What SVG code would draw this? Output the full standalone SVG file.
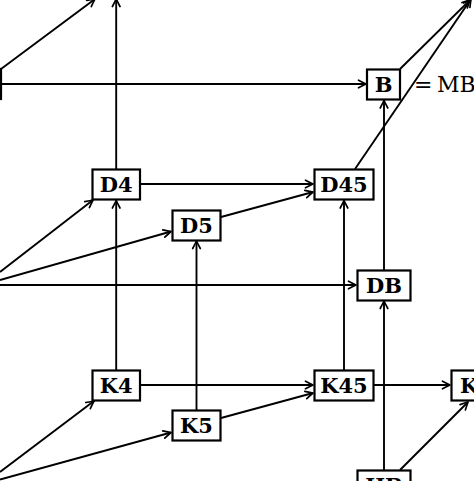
<svg xmlns="http://www.w3.org/2000/svg" width="474" height="481" viewBox="0 0 474 481">
<defs>
<marker id="ah" markerUnits="userSpaceOnUse" markerWidth="14" markerHeight="12" viewBox="-9 -6 11 12" refX="0" refY="0" orient="auto" overflow="visible">
<path d="M -7.5 -3.8 Q -2.5 -1.2 0 0 Q -2.5 1.2 -7.5 3.8" fill="none" stroke="#000" stroke-width="1.7" stroke-linecap="round" stroke-linejoin="round"/>
</marker>
<style>
.n rect{fill:#fff;stroke:#000;stroke-width:2.2}
.n text{font-family:"DejaVu Serif","Liberation Serif",serif;font-weight:bold;font-size:21px;text-anchor:middle;fill:#000}
#edges line{stroke:#000;stroke-width:1.9;marker-end:url(#ah)}
.lbl{font-family:"DejaVu Serif","Liberation Serif",serif;font-size:22px;fill:#000}
</style>
</defs>
<rect x="0" y="0" width="474" height="481" fill="#fff"/>
<g id="edges">
<line x1="1" y1="69" x2="95" y2="-1"/>
<line x1="1" y1="84" x2="366" y2="84"/>
<line x1="116.2" y1="169" x2="116.2" y2="-1"/>
<line x1="140" y1="184" x2="313" y2="184"/>
<line x1="221" y1="217" x2="313" y2="192"/>
<line x1="0" y1="272" x2="93" y2="200"/>
<line x1="0" y1="280" x2="171" y2="231.5"/>
<line x1="0" y1="285" x2="356" y2="285"/>
<line x1="116.2" y1="370" x2="116.2" y2="200.5"/>
<line x1="196.5" y1="410" x2="196.5" y2="241"/>
<line x1="344" y1="370" x2="344" y2="200.5"/>
<line x1="384" y1="470" x2="384" y2="301"/>
<line x1="384" y1="270" x2="384" y2="100.5"/>
<line x1="355" y1="169" x2="471" y2="-1"/>
<line x1="400" y1="69" x2="470" y2="0"/>
<line x1="140" y1="385" x2="313" y2="385"/>
<line x1="221" y1="418" x2="313" y2="393"/>
<line x1="0" y1="472" x2="94" y2="401"/>
<line x1="0" y1="479.5" x2="171" y2="432.5"/>
<line x1="374" y1="385" x2="450" y2="385"/>
<line x1="400" y1="470" x2="468" y2="402"/>
</g>
<g id="nL" class="n"><rect x="-60" y="69" width="61" height="30"/></g>
<g id="nB" class="n"><rect x="367" y="69.5" width="33" height="30"/><text x="383.5" y="92">B</text></g>
<g id="nD4" class="n"><rect x="92.5" y="169.5" width="47.5" height="30"/><text x="116.2" y="192">D4</text></g>
<g id="nD5" class="n"><rect x="172.5" y="210.5" width="48" height="30"/><text x="196.5" y="233">D5</text></g>
<g id="nD45" class="n"><rect x="314.5" y="169.5" width="59" height="30"/><text x="344" y="192">D45</text></g>
<g id="nDB" class="n"><rect x="357.5" y="270.5" width="53" height="30"/><text x="384" y="293">DB</text></g>
<g id="nK4" class="n"><rect x="92.5" y="370.5" width="47.5" height="30"/><text x="116.2" y="393">K4</text></g>
<g id="nK5" class="n"><rect x="172.5" y="410.5" width="48" height="30"/><text x="196.5" y="433">K5</text></g>
<g id="nK45" class="n"><rect x="314.5" y="370.5" width="59" height="30"/><text x="344" y="393">K45</text></g>
<g id="nK" class="n"><rect x="451.5" y="370.5" width="60" height="30"/><text x="460" y="393" style="text-anchor:start">K</text></g>
<g id="nHB" class="n"><rect x="357.5" y="470.5" width="53" height="30"/><text x="384" y="493">HB</text></g>
<text class="lbl" x="414" y="92">= <tspan x="437">MB</tspan></text>
</svg>
